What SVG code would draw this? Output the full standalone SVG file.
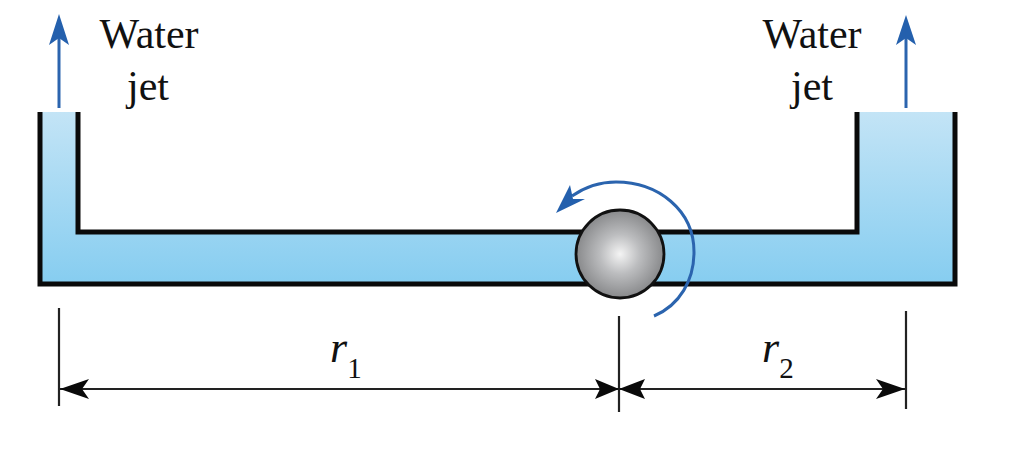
<svg xmlns="http://www.w3.org/2000/svg" width="1017" height="475" viewBox="0 0 1017 475">
<style>
.t{font-family:"Liberation Serif","Times New Roman",serif;fill:#111}
.lab{font-size:42px;text-anchor:middle}
.r{font-size:44px;font-style:italic}
.s{font-size:29px;font-style:normal}
.wall{fill:none;stroke:#0a0a0a;stroke-width:5;stroke-linecap:butt;stroke-linejoin:miter}
.blue{fill:none;stroke:#2b64ae;stroke-width:3}
.dim{fill:none;stroke:#222;stroke-width:2.2}
.dimh{fill:#0a0a0a}
.bh{fill:#2460ad}
</style>
<defs>
<linearGradient id="w" gradientUnits="userSpaceOnUse" x1="0" y1="112" x2="0" y2="284">
<stop offset="0" stop-color="#c3e4f6"/><stop offset="1" stop-color="#86cdf0"/>
</linearGradient>
<radialGradient id="b" cx="0.5" cy="0.5" r="0.5">
<stop offset="0" stop-color="#f4f4f4"/><stop offset="0.45" stop-color="#bcbdbf"/><stop offset="1" stop-color="#88898b"/>
</radialGradient>
</defs>
<g id="tank">
<path d="M40 112H78V232H857V112H955V284H40Z" fill="url(#w)"/>
<path class="wall" d="M40 112V284H955V112M78 112V232H857V112"/>
</g>
<g id="ball">
<circle cx="620" cy="254" r="44" fill="url(#b)" stroke="#111" stroke-width="2.8"/>
</g>
<g id="labels">
<text class="t lab" x="149" y="48">Water</text>
<text class="t lab" x="148" y="100">jet</text>
<text class="t lab" x="812" y="48">Water</text>
<text class="t lab" x="812" y="100">jet</text>
<text class="t r" x="330" y="362">r<tspan class="s" dy="16">1</tspan></text>
<text class="t r" x="762" y="362">r<tspan class="s" dy="16">2</tspan></text>
</g>
<g id="connectors">
<path class="blue" d="M59 108V35"/>
<path class="bh" d="M59 14L69 45L59 38L49 45Z"/>
<path class="blue" d="M906 108V35"/>
<path class="bh" d="M906 15L916 45L906 38L896 45Z"/>
<path class="blue" d="M654 316C680 305 694 280 694 252C694 210 658 182 616 182C599 182 585 187 572 196"/>
<path class="bh" d="M556 213L570 185L573 199L585 199Z"/>
<path class="dim" d="M59 308V406M619 316V412M906 311V409M59 389H906"/>
<path class="dimh" d="M60 389L89 379L82 389L89 399ZM619 389L595 379L600 389L595 399ZM619 389L645 379L640 389L645 399ZM905 389L876 379L883 389L876 399Z"/>
</g>
</svg>
